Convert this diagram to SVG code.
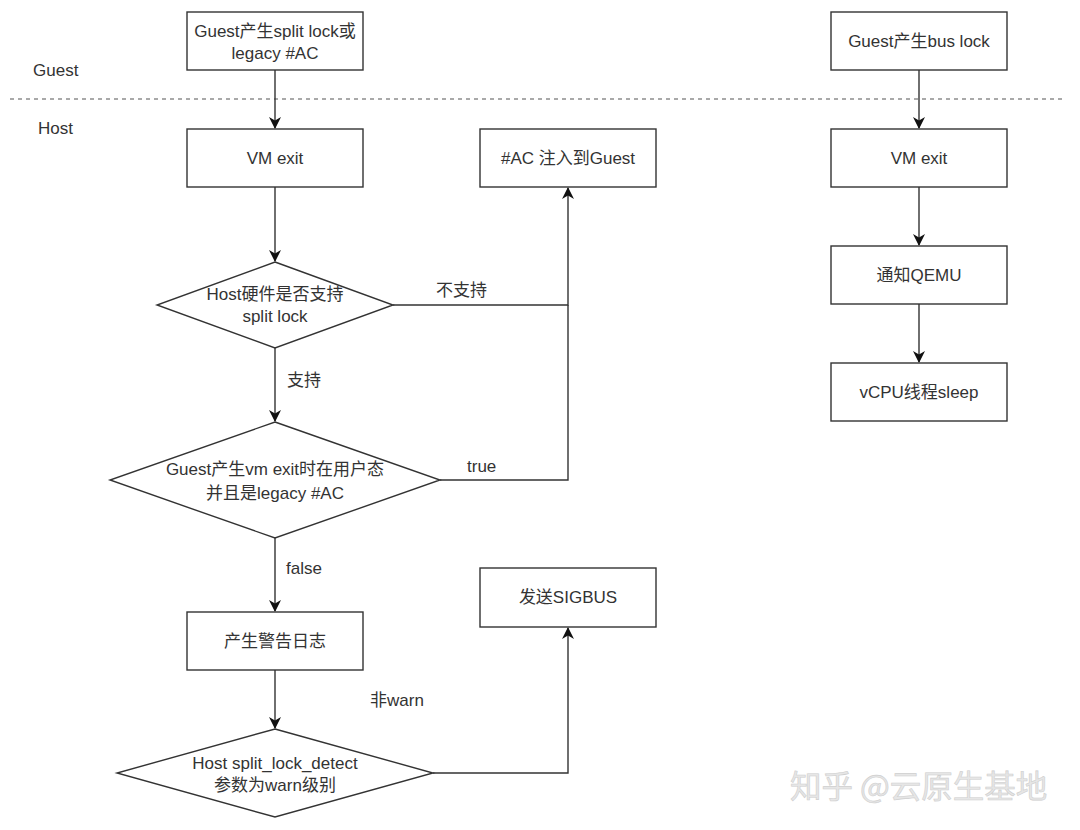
<svg xmlns="http://www.w3.org/2000/svg" width="1080" height="830" viewBox="0 0 1080 830">
<defs>
<marker id="arr" viewBox="0 0 12 12" refX="11" refY="6" markerWidth="12" markerHeight="12" markerUnits="userSpaceOnUse" orient="auto">
<path d="M0,0 L12,6 L0,12 L3.5,6 Z" fill="#111"/>
</marker>
<style>
.box{fill:#fff;stroke:#333;stroke-width:1.4}
.t{font-family:"Liberation Sans","Noto Sans CJK SC",sans-serif;font-size:17px;fill:#333;text-anchor:middle}
.l{font-family:"Liberation Sans","Noto Sans CJK SC",sans-serif;font-size:17px;fill:#333}
.c{fill:none;stroke:#333;stroke-width:1.4}
</style>
</defs>
<rect width="1080" height="830" fill="#fff"/>
<line x1="10" y1="99" x2="1062" y2="99" stroke="#555" stroke-width="1.2" stroke-dasharray="4,4"/>
<text class="l" x="33" y="76">Guest</text>
<text class="l" x="38" y="134">Host</text>
<g id="connectors">
<line class="c" x1="275" y1="70" x2="275" y2="128" marker-end="url(#arr)"/>
<line class="c" x1="275" y1="187" x2="275" y2="261" marker-end="url(#arr)"/>
<line class="c" x1="275" y1="348" x2="275" y2="421" marker-end="url(#arr)"/>
<line class="c" x1="275" y1="538" x2="275" y2="611" marker-end="url(#arr)"/>
<line class="c" x1="275" y1="670" x2="275" y2="728" marker-end="url(#arr)"/>
<polyline class="c" points="393,305 568,305 568,188" marker-end="url(#arr)"/>
<polyline class="c" points="440,480 568,480 568,305"/>
<polyline class="c" points="433,773 568,773 568,628" marker-end="url(#arr)"/>
<line class="c" x1="919" y1="70" x2="919" y2="128" marker-end="url(#arr)"/>
<line class="c" x1="919" y1="187" x2="919" y2="245" marker-end="url(#arr)"/>
<line class="c" x1="919" y1="304" x2="919" y2="362" marker-end="url(#arr)"/>
<text class="l" x="436" y="296">不支持</text>
<text class="l" x="287" y="386">支持</text>
<text class="l" x="467" y="472">true</text>
<text class="l" x="286" y="574">false</text>
<text class="l" x="370" y="706">非warn</text>
</g>
<g id="n1"><rect class="box" x="187" y="12" width="176" height="58"/><text class="t" x="275" y="37">Guest产生split lock或</text><text class="t" x="275" y="59">legacy #AC</text></g>
<g id="n2"><rect class="box" x="187" y="129" width="176" height="58"/><text class="t" x="275" y="164">VM exit</text></g>
<g id="n3"><rect class="box" x="480" y="129" width="176" height="58"/><text class="t" x="568" y="164">#AC 注入到Guest</text></g>
<g id="n4"><polygon class="box" points="275,262 393,305 275,348 157,305"/><text class="t" x="275" y="300">Host硬件是否支持</text><text class="t" x="275" y="322">split lock</text></g>
<g id="n5"><polygon class="box" points="275,422 440,480 275,538 110,480"/><text class="t" x="275" y="475">Guest产生vm exit时在用户态</text><text class="t" x="275" y="499">并且是legacy #AC</text></g>
<g id="n6"><rect class="box" x="187" y="612" width="176" height="58"/><text class="t" x="275" y="647">产生警告日志</text></g>
<g id="n7"><polygon class="box" points="275,729 433,773 275,817 117,773"/><text class="t" x="275" y="769">Host split_lock_detect</text><text class="t" x="275" y="791">参数为warn级别</text></g>
<g id="n8"><rect class="box" x="480" y="568" width="176" height="59"/><text class="t" x="568" y="603">发送SIGBUS</text></g>
<g id="n9"><rect class="box" x="831" y="12" width="176" height="58"/><text class="t" x="919" y="47">Guest产生bus lock</text></g>
<g id="n10"><rect class="box" x="831" y="129" width="176" height="58"/><text class="t" x="919" y="164">VM exit</text></g>
<g id="n11"><rect class="box" x="831" y="246" width="176" height="58"/><text class="t" x="919" y="281">通知QEMU</text></g>
<g id="n12"><rect class="box" x="831" y="363" width="176" height="58"/><text class="t" x="919" y="398">vCPU线程sleep</text></g>
<text x="790" y="798" font-family="'Noto Sans CJK SC',sans-serif" font-size="31.5" fill="#e6e6e6" stroke="#cfcfcf" stroke-width="0.6">知乎 @云原生基地</text>
</svg>
